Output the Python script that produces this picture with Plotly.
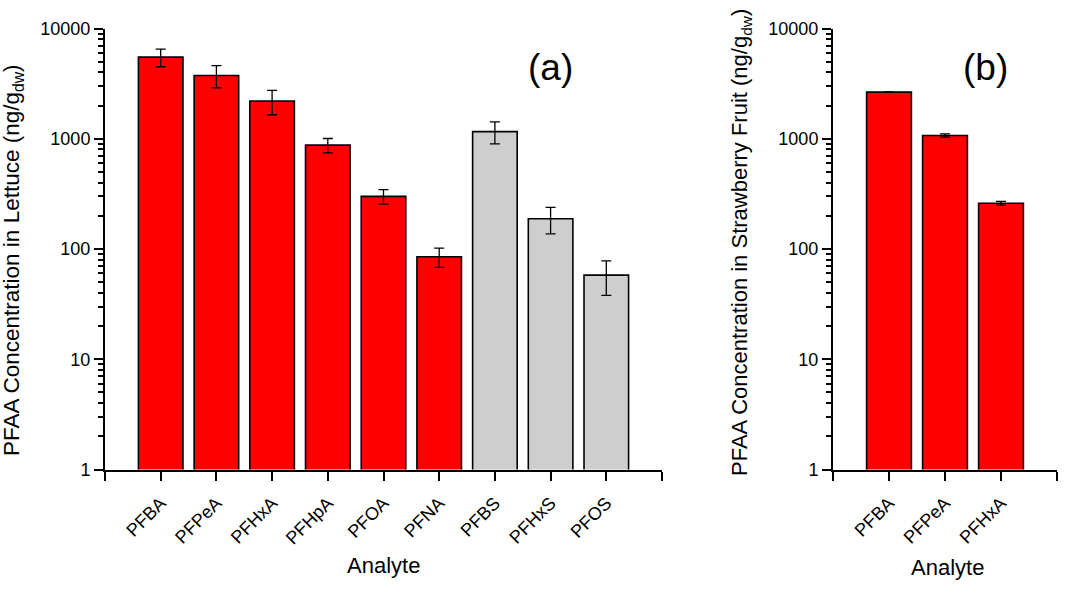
import plotly.graph_objects as go

# Panel (a): lettuce
lettuce_analytes = ["PFBA", "PFPeA", "PFHxA", "PFHpA", "PFOA", "PFNA", "PFBS", "PFHxS", "PFOS"]
lettuce_values = [5500, 3750, 2200, 875, 300, 85, 1160, 188, 58]
lettuce_errors = [1000, 850, 550, 130, 45, 17, 260, 51, 20]
lettuce_colors = ["#FF0000"] * 6 + ["#CECECE"] * 3

# Panel (b): strawberry fruit
fruit_analytes = ["PFBA", "PFPeA", "PFHxA"]
fruit_values = [2650, 1070, 260]
fruit_errors = [15, 35, 10]

y_tickvals = [1, 10, 100, 1000, 10000]
y_ticktext = ["1", "10", "100", "1000", "10000"]
y_minorvals = [m * d for d in (1, 10, 100, 1000) for m in range(2, 10)]

FONT = "Liberation Sans, Arial, sans-serif"

fig = go.Figure()

xa = list(range(1, len(lettuce_analytes) + 1))
xb = list(range(1, len(fruit_analytes) + 1))

fig.add_trace(go.Bar(
    x=xa, y=lettuce_values, width=0.8,
    marker=dict(color=lettuce_colors, line=dict(color="#000000", width=1.6)),
    error_y=dict(type="data", array=lettuce_errors, color="#000000", thickness=1.3, width=5),
    xaxis="x", yaxis="y", showlegend=False,
))
fig.add_trace(go.Bar(
    x=xb, y=fruit_values, width=0.8,
    marker=dict(color="#FF0000", line=dict(color="#000000", width=1.6)),
    error_y=dict(type="data", array=fruit_errors, color="#000000", thickness=1.3, width=5),
    xaxis="x2", yaxis="y2", showlegend=False,
))

ydom = [1 - 469.5 / 600, 1 - 28.5 / 600]

def yaxis_cfg(anchor):
    return dict(
        type="log", range=[0, 4], domain=ydom, anchor=anchor, automargin=False,
        tickmode="array", tickvals=y_tickvals, ticktext=y_ticktext,
        ticks="outside", ticklen=9, tickwidth=2, tickcolor="#000",
        showline=True, linecolor="#000", linewidth=2,
        showgrid=False, zeroline=False,
        minor=dict(tickmode="array", tickvals=y_minorvals, ticks="outside", ticklen=5,
                   tickwidth=1.5, tickcolor="#000", showgrid=False),
        tickfont=dict(family=FONT, size=18, color="#000"),
    )

def xaxis_cfg(labels, domain, anchor):
    n = len(labels)
    return dict(
        range=[0, n + 1], domain=domain, anchor=anchor, automargin=False,
        tickmode="array", tickvals=list(range(1, n + 1)), ticktext=labels,
        tickangle=-45, ticklabelstandoff=5,
        ticks="outside", ticklen=9, tickwidth=2, tickcolor="#000",
        showline=True, linecolor="#000", linewidth=2,
        showgrid=False, zeroline=False,
        minor=dict(tickmode="array", tickvals=[0, n + 1], ticks="outside", ticklen=9,
                   tickwidth=2, tickcolor="#000", showgrid=False),
        tickfont=dict(family=FONT, size=18, color="#000"),
    )

fig.update_layout(
    width=1068, height=600,
    margin=dict(l=0, r=0, t=0, b=0),
    paper_bgcolor="white", plot_bgcolor="white",
    font=dict(family=FONT, color="#000"),
    xaxis=xaxis_cfg(lettuce_analytes, [105 / 1068, 662 / 1068], "y"),
    yaxis=yaxis_cfg("x"),
    xaxis2=xaxis_cfg(fruit_analytes, [833 / 1068, 1057 / 1068], "y2"),
    yaxis2=yaxis_cfg("x2"),
)

def ann(text, x, y, size, angle=0):
    fig.add_annotation(text=text, x=x / 1068, y=1 - y / 600, xref="paper", yref="paper",
                       xanchor="center", yanchor="middle", textangle=angle,
                       showarrow=False, font=dict(family=FONT, size=size, color="#000"))

ann("(a)", 550, 68, 37)
ann("(b)", 985, 68, 37)
ann("Analyte", 383, 565, 22)
ann("Analyte", 947, 567, 22)
ann("PFAA Concentration in Lettuce (ng/g<sub>dw</sub>)", 13, 260, 22.5, -90)
ann("PFAA Concentration in Strawberry Fruit (ng/g<sub>dw</sub>)", 741, 243, 22, -90)

fig.write_html("out.html")
